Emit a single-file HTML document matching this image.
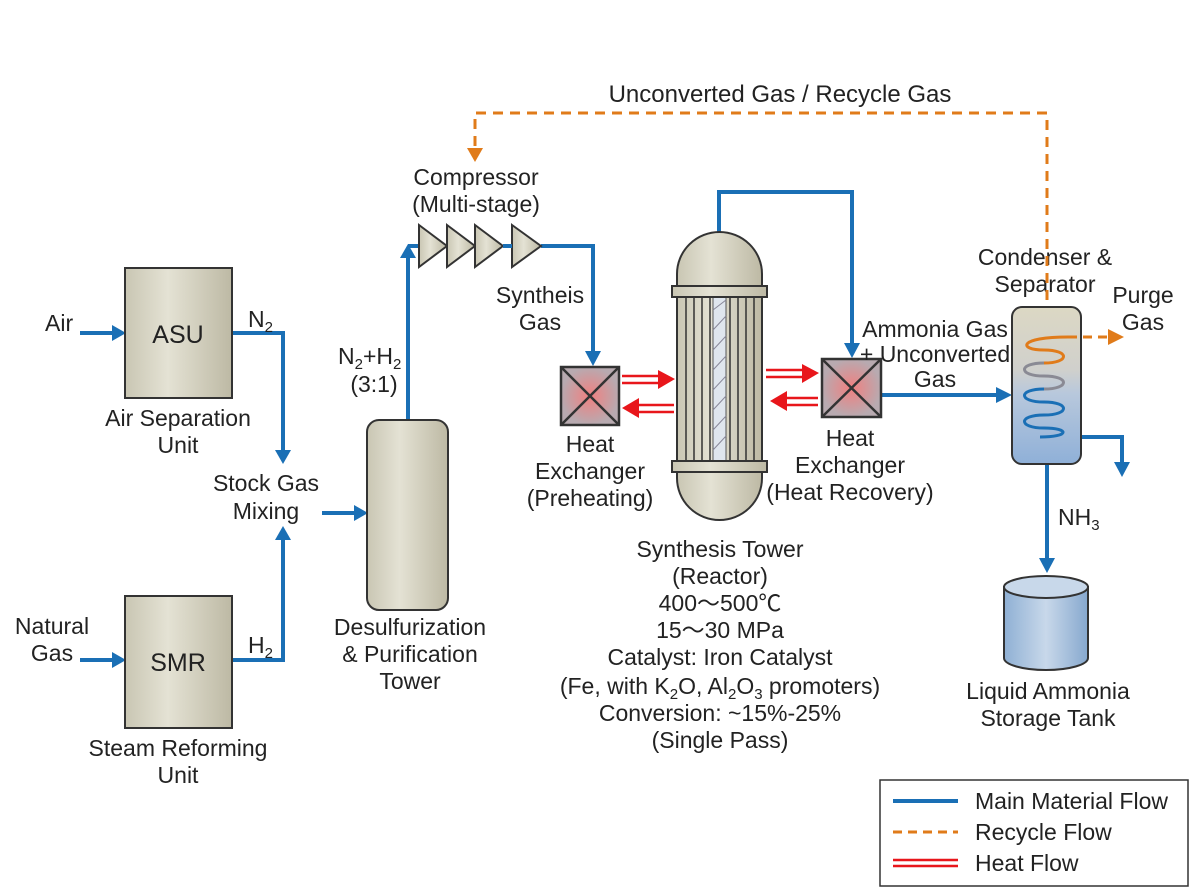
<!DOCTYPE html>
<html><head><meta charset="utf-8"><style>body{margin:0;background:#fff}svg{display:block}text{font-family:"Liberation Sans",sans-serif;font-size:23px;fill:#222}.s{font-size:15px}</style></head><body>
<svg width="1200" height="896" viewBox="0 0 1200 896">
<defs>
<linearGradient id="tan" x1="0" x2="1"><stop offset="0" stop-color="#c9c6b3"/><stop offset=".4" stop-color="#e4e2d4"/><stop offset="1" stop-color="#bdb9a4"/></linearGradient>
<radialGradient id="hx"><stop offset="0" stop-color="#f08080"/><stop offset="1" stop-color="#b8aab0"/></radialGradient>
<linearGradient id="cond" x1="0" y1="0" x2="0" y2="1"><stop offset="0" stop-color="#dcd8c4"/><stop offset=".4" stop-color="#d0d0cc"/><stop offset=".55" stop-color="#b8c8dc"/><stop offset="1" stop-color="#8fb0d8"/></linearGradient>
<linearGradient id="tank" x1="0" x2="1"><stop offset="0" stop-color="#8fb0d4"/><stop offset=".5" stop-color="#c8d8ea"/><stop offset="1" stop-color="#86a8ce"/></linearGradient>
</defs>
<g stroke="#1a6fb5" stroke-width="4" fill="none">
<path d="M80,333H116"/>
<path d="M232,333H283V456"/>
<path d="M232,660H283V534"/>
<path d="M80,660H116"/>
<path d="M322,513H360"/>
<path d="M408,420V252"/>
<path d="M408,246H419"/>
<path d="M541,246H593V358"/>
<path d="M719,234V192H852V350"/>
<path d="M881,395H1002"/>
<path d="M1047,464V562"/>
<path d="M1040,437H1122V468"/>
</g>
<g fill="#1a6fb5">
<path d="M112,325L126,333L112,341z"/><path d="M112,652L126,660L112,668z"/>
<path d="M275,450L283,464L291,450z"/><path d="M275,540L283,526L291,540z"/>
<path d="M354,505L368,513L354,521z"/><path d="M400,258L408,244L416,258z"/>
<path d="M585,351L593,366L601,351z"/><path d="M844,343L852,358L860,343z"/>
<path d="M996,387L1012,395L996,403z"/><path d="M1039,558L1047,573L1055,558z"/>
<path d="M1114,462L1122,477L1130,462z"/>
</g>
<!-- ASU / SMR -->
<rect x="125" y="268" width="107" height="130" fill="url(#tan)" stroke="#333" stroke-width="2"/>
<rect x="125" y="596" width="107" height="132" fill="url(#tan)" stroke="#333" stroke-width="2"/>
<text x="178" y="343" text-anchor="middle" style="font-size:25px">ASU</text>
<text x="178" y="671" text-anchor="middle" style="font-size:25px">SMR</text>
<text x="45" y="331">Air</text>
<text x="52" y="634" text-anchor="middle">Natural</text><text x="52" y="661" text-anchor="middle">Gas</text>
<text x="248" y="327">N<tspan dy="5" class="s">2</tspan></text>
<text x="248" y="653">H<tspan dy="5" class="s">2</tspan></text>
<text x="178" y="426" text-anchor="middle">Air Separation</text><text x="178" y="453" text-anchor="middle">Unit</text>
<text x="178" y="756" text-anchor="middle">Steam Reforming</text><text x="178" y="783" text-anchor="middle">Unit</text>
<text x="266" y="491" text-anchor="middle">Stock Gas</text><text x="266" y="519" text-anchor="middle">Mixing</text>
<!-- desulf tower -->
<rect x="367" y="420" width="81" height="190" rx="12" fill="url(#tan)" stroke="#333" stroke-width="2"/>
<text x="410" y="635" text-anchor="middle">Desulfurization</text><text x="410" y="662" text-anchor="middle">&amp; Purification</text><text x="410" y="689" text-anchor="middle">Tower</text>
<text x="338" y="364">N<tspan dy="5" class="s">2</tspan><tspan dy="-5">+H</tspan><tspan dy="5" class="s">2</tspan></text>
<text x="374" y="392" text-anchor="middle">(3:1)</text>
<!-- compressor -->
<g fill="url(#tan)" stroke="#333" stroke-width="2">
<path d="M419,225L447,246L419,267z"/><path d="M447,225L475,246L447,267z"/><path d="M475,225L503,246L475,267z"/><path d="M512,225L541,246L512,267z"/>
</g>
<path d="M503,246H512" stroke="#1a6fb5" stroke-width="4"/>
<text x="476" y="185" text-anchor="middle">Compressor</text><text x="476" y="212" text-anchor="middle">(Multi-stage)</text>
<text x="540" y="303" text-anchor="middle">Syntheis</text><text x="540" y="330" text-anchor="middle">Gas</text>
<!-- HX -->
<g stroke="#333" stroke-width="2.5"><rect x="561" y="367" width="58" height="58" fill="url(#hx)"/><path d="M561,367L619,425M619,367L561,425"/>
<rect x="822" y="359" width="59" height="58" fill="url(#hx)"/><path d="M822,359L881,417M881,359L822,417"/></g>
<text x="590" y="452" text-anchor="middle">Heat</text><text x="590" y="479" text-anchor="middle">Exchanger</text><text x="590" y="506" text-anchor="middle">(Preheating)</text>
<text x="850" y="446" text-anchor="middle">Heat</text><text x="850" y="473" text-anchor="middle">Exchanger</text><text x="850" y="500" text-anchor="middle">(Heat Recovery)</text>
<!-- heat arrows -->
<g stroke="#e8161b" stroke-width="2.5"><path d="M622,376H662M622,383H662"/><path d="M636,405H674M636,412H674"/><path d="M766,370H806M766,377H806"/><path d="M782,398H818M782,405H818"/></g>
<g fill="#e8161b"><path d="M658,370L675,379L658,389z"/><path d="M639,398L622,408L639,418z"/><path d="M802,364L819,373L802,383z"/><path d="M787,391L770,401L787,411z"/></g>
<!-- reactor -->
<path d="M677,290V274A42.5,42 0 0 1 762,274V290z" fill="url(#tan)" stroke="#333" stroke-width="2"/>
<path d="M677,470V478A42.5,42 0 0 0 762,478V470z" fill="url(#tan)" stroke="#333" stroke-width="2"/>
<rect x="677" y="297" width="85" height="164" fill="url(#tan)" stroke="#333" stroke-width="2"/>
<g stroke="#333" stroke-width="1.5"><path d="M686,297V461M694,297V461M702,297V461M710,297V461M730,297V461M738,297V461M746,297V461M754,297V461"/></g>
<rect x="713" y="297" width="13" height="164" fill="#dfe6ee" stroke="#555"/>
<g stroke="#889" stroke-width="1"><path d="M713,310L726,300M713,330L726,316M713,350L726,336M713,370L726,356M713,390L726,376M713,410L726,396M713,430L726,416M713,450L726,436"/></g>
<rect x="672" y="286" width="95" height="11" fill="url(#tan)" stroke="#333" stroke-width="2"/>
<rect x="672" y="461" width="95" height="11" fill="url(#tan)" stroke="#333" stroke-width="2"/>
<g text-anchor="middle"><text x="720" y="557">Synthesis Tower</text><text x="720" y="584">(Reactor)</text><text x="720" y="611">400～500℃</text><text x="720" y="638">15～30 MPa</text><text x="720" y="665">Catalyst: Iron Catalyst</text>
<text x="720" y="694">(Fe, with K<tspan dy="5" class="s">2</tspan><tspan dy="-5">O, Al</tspan><tspan dy="5" class="s">2</tspan><tspan dy="-5">O</tspan><tspan dy="5" class="s">3</tspan><tspan dy="-5"> promoters)</tspan></text>
<text x="720" y="721">Conversion: ~15%-25%</text><text x="720" y="748">(Single Pass)</text></g>
<text x="935" y="337" text-anchor="middle">Ammonia Gas</text><text x="935" y="362" text-anchor="middle">+ Unconverted</text><text x="935" y="387" text-anchor="middle">Gas</text>
<!-- condenser -->
<rect x="1012" y="307" width="69" height="157" rx="10" fill="url(#cond)" stroke="#333" stroke-width="2"/>
<path d="M1068,337C1018,337 1018,350 1044,350C1070,350 1070,363 1044,363" stroke="#e07b1a" stroke-width="3" fill="none"/>
<path d="M1044,363C1018,363 1018,376 1044,376C1070,376 1070,389 1044,389" stroke="#8a8a94" stroke-width="3" fill="none"/>
<path d="M1044,389C1018,389 1018,402 1044,402C1070,402 1070,415 1044,415C1018,415 1018,428 1044,428C1070,428 1070,437 1040,437" stroke="#1a6fb5" stroke-width="3" fill="none"/>
<path d="M1068,337H1110" stroke="#e07b1a" stroke-width="3" stroke-dasharray="9,6"/>
<path d="M1108,329L1124,337L1108,345z" fill="#e07b1a"/>
<text x="1045" y="265" text-anchor="middle">Condenser &amp;</text><text x="1045" y="292" text-anchor="middle">Separator</text>
<text x="1143" y="303" text-anchor="middle">Purge</text><text x="1143" y="330" text-anchor="middle">Gas</text>
<text x="1058" y="525">NH<tspan dy="5" class="s">3</tspan></text>
<!-- tank -->
<path d="M1004,587V658A42,12 0 0 0 1088,658V587z" fill="url(#tank)" stroke="#333" stroke-width="2"/>
<ellipse cx="1046" cy="587" rx="42" ry="11" fill="#c8d8ea" stroke="#333" stroke-width="2"/>
<text x="1048" y="699" text-anchor="middle">Liquid Ammonia</text><text x="1048" y="726" text-anchor="middle">Storage Tank</text>
<!-- recycle -->
<path d="M1047,300V113H475V150" stroke="#e07b1a" stroke-width="3" fill="none" stroke-dasharray="10,7"/>
<path d="M467,148L475,162L483,148z" fill="#e07b1a"/>
<text x="780" y="102" text-anchor="middle" style="font-size:24px">Unconverted Gas / Recycle Gas</text>
<!-- legend -->
<rect x="880" y="780" width="308" height="106" fill="#fff" stroke="#333" stroke-width="1.5"/>
<path d="M893,801H958" stroke="#1a6fb5" stroke-width="4"/>
<path d="M893,832H958" stroke="#e07b1a" stroke-width="3" stroke-dasharray="9,6"/>
<path d="M893,860H958M893,866H958" stroke="#e8161b" stroke-width="2.5"/>
<text x="975" y="809">Main Material Flow</text><text x="975" y="840">Recycle Flow</text><text x="975" y="871">Heat Flow</text>
</svg>
</body></html>
